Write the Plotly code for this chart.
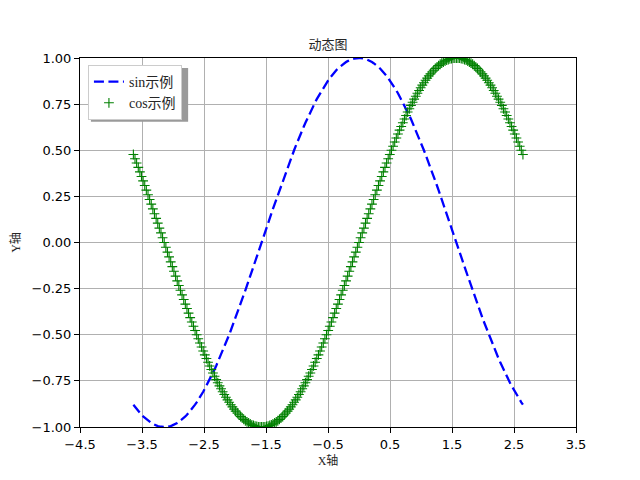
import plotly.graph_objects as go

# x 取值（弧度）
x_vals = [
    -3.639, -3.613, -3.587, -3.560, -3.534, -3.508, -3.482, -3.456, -3.430,
    -3.403, -3.377, -3.351, -3.325, -3.299, -3.272, -3.246, -3.220, -3.194, -3.168,
    -3.142, -3.115, -3.089, -3.063, -3.037, -3.011, -2.985, -2.958, -2.932, -2.906,
    -2.880, -2.854, -2.827, -2.801, -2.775, -2.749, -2.723, -2.697, -2.670, -2.644,
    -2.618, -2.592, -2.566, -2.539, -2.513, -2.487, -2.461, -2.435, -2.409, -2.382,
    -2.356, -2.330, -2.304, -2.278, -2.251, -2.225, -2.199, -2.173, -2.147, -2.121,
    -2.094, -2.068, -2.042, -2.016, -1.990, -1.963, -1.937, -1.911, -1.885, -1.859,
    -1.833, -1.806, -1.780, -1.754, -1.728, -1.702, -1.676, -1.649, -1.623, -1.597,
    -1.571, -1.545, -1.518, -1.492, -1.466, -1.440, -1.414, -1.388, -1.361, -1.335,
    -1.309, -1.283, -1.257, -1.230, -1.204, -1.178, -1.152, -1.126, -1.100, -1.073,
    -1.047, -1.021, -0.995, -0.969, -0.942, -0.916, -0.890, -0.864, -0.838, -0.812,
    -0.785, -0.759, -0.733, -0.707, -0.681, -0.654, -0.628, -0.602, -0.576, -0.550,
    -0.524, -0.497, -0.471, -0.445, -0.419, -0.393, -0.367, -0.340, -0.314, -0.288,
    -0.262, -0.236, -0.209, -0.183, -0.157, -0.131, -0.105, -0.079, -0.052, -0.026,
    0.000, 0.026, 0.052, 0.079, 0.105, 0.131, 0.157, 0.183, 0.209, 0.236,
    0.262, 0.288, 0.314, 0.340, 0.367, 0.393, 0.419, 0.445, 0.471, 0.497,
    0.524, 0.550, 0.576, 0.602, 0.628, 0.654, 0.681, 0.707, 0.733, 0.759,
    0.785, 0.812, 0.838, 0.864, 0.890, 0.916, 0.942, 0.969, 0.995, 1.021,
    1.047, 1.073, 1.100, 1.126, 1.152, 1.178, 1.204, 1.230, 1.257, 1.283,
    1.309, 1.335, 1.361, 1.388, 1.414, 1.440, 1.466, 1.492, 1.518, 1.545,
    1.571, 1.597, 1.623, 1.649, 1.676, 1.702, 1.728, 1.754, 1.780, 1.806,
    1.833, 1.859, 1.885, 1.911, 1.937, 1.963, 1.990, 2.016, 2.042, 2.068,
    2.094, 2.121, 2.147, 2.173, 2.199, 2.225, 2.251, 2.278, 2.304, 2.330,
    2.356, 2.382, 2.409, 2.435, 2.461, 2.487, 2.513, 2.539, 2.566, 2.592,
    2.618, 2.644,
]

# 蓝色虚线 "sin示例"
sin_vals = [
    -0.879, -0.891, -0.903, -0.914, -0.924, -0.934, -0.943, -0.951, -0.959,
    -0.966, -0.972, -0.978, -0.983, -0.988, -0.991, -0.995, -0.997, -0.999, -1.000,
    -1.000, -1.000, -0.999, -0.997, -0.995, -0.991, -0.988, -0.983, -0.978, -0.972,
    -0.966, -0.959, -0.951, -0.943, -0.934, -0.924, -0.914, -0.903, -0.891, -0.879,
    -0.866, -0.853, -0.839, -0.824, -0.809, -0.793, -0.777, -0.760, -0.743, -0.725,
    -0.707, -0.688, -0.669, -0.649, -0.629, -0.609, -0.588, -0.566, -0.545, -0.522,
    -0.500, -0.477, -0.454, -0.431, -0.407, -0.383, -0.358, -0.334, -0.309, -0.284,
    -0.259, -0.233, -0.208, -0.182, -0.156, -0.131, -0.105, -0.078, -0.052, -0.026,
    0.000, 0.026, 0.052, 0.078, 0.105, 0.131, 0.156, 0.182, 0.208, 0.233,
    0.259, 0.284, 0.309, 0.334, 0.358, 0.383, 0.407, 0.431, 0.454, 0.477,
    0.500, 0.522, 0.545, 0.566, 0.588, 0.609, 0.629, 0.649, 0.669, 0.688,
    0.707, 0.725, 0.743, 0.760, 0.777, 0.793, 0.809, 0.824, 0.839, 0.853,
    0.866, 0.879, 0.891, 0.903, 0.914, 0.924, 0.934, 0.943, 0.951, 0.959,
    0.966, 0.972, 0.978, 0.983, 0.988, 0.991, 0.995, 0.997, 0.999, 1.000,
    1.000, 1.000, 0.999, 0.997, 0.995, 0.991, 0.988, 0.983, 0.978, 0.972,
    0.966, 0.959, 0.951, 0.943, 0.934, 0.924, 0.914, 0.903, 0.891, 0.879,
    0.866, 0.853, 0.839, 0.824, 0.809, 0.793, 0.777, 0.760, 0.743, 0.725,
    0.707, 0.688, 0.669, 0.649, 0.629, 0.609, 0.588, 0.566, 0.545, 0.522,
    0.500, 0.477, 0.454, 0.431, 0.407, 0.383, 0.358, 0.334, 0.309, 0.284,
    0.259, 0.233, 0.208, 0.182, 0.156, 0.131, 0.105, 0.078, 0.052, 0.026,
    0.000, -0.026, -0.052, -0.078, -0.105, -0.131, -0.156, -0.182, -0.208, -0.233,
    -0.259, -0.284, -0.309, -0.334, -0.358, -0.383, -0.407, -0.431, -0.454, -0.477,
    -0.500, -0.522, -0.545, -0.566, -0.588, -0.609, -0.629, -0.649, -0.669, -0.688,
    -0.707, -0.725, -0.743, -0.760, -0.777, -0.793, -0.809, -0.824, -0.839, -0.853,
    -0.866, -0.879,
]

# 绿色 + 号 "cos示例"
cos_vals = [
    0.477, 0.454, 0.431, 0.407, 0.383, 0.358, 0.334, 0.309, 0.284,
    0.259, 0.233, 0.208, 0.182, 0.156, 0.131, 0.105, 0.078, 0.052, 0.026,
    0.000, -0.026, -0.052, -0.078, -0.105, -0.131, -0.156, -0.182, -0.208, -0.233,
    -0.259, -0.284, -0.309, -0.334, -0.358, -0.383, -0.407, -0.431, -0.454, -0.477,
    -0.500, -0.522, -0.545, -0.566, -0.588, -0.609, -0.629, -0.649, -0.669, -0.688,
    -0.707, -0.725, -0.743, -0.760, -0.777, -0.793, -0.809, -0.824, -0.839, -0.853,
    -0.866, -0.879, -0.891, -0.903, -0.914, -0.924, -0.934, -0.943, -0.951, -0.959,
    -0.966, -0.972, -0.978, -0.983, -0.988, -0.991, -0.995, -0.997, -0.999, -1.000,
    -1.000, -1.000, -0.999, -0.997, -0.995, -0.991, -0.988, -0.983, -0.978, -0.972,
    -0.966, -0.959, -0.951, -0.943, -0.934, -0.924, -0.914, -0.903, -0.891, -0.879,
    -0.866, -0.853, -0.839, -0.824, -0.809, -0.793, -0.777, -0.760, -0.743, -0.725,
    -0.707, -0.688, -0.669, -0.649, -0.629, -0.609, -0.588, -0.566, -0.545, -0.522,
    -0.500, -0.477, -0.454, -0.431, -0.407, -0.383, -0.358, -0.334, -0.309, -0.284,
    -0.259, -0.233, -0.208, -0.182, -0.156, -0.131, -0.105, -0.078, -0.052, -0.026,
    0.000, 0.026, 0.052, 0.078, 0.105, 0.131, 0.156, 0.182, 0.208, 0.233,
    0.259, 0.284, 0.309, 0.334, 0.358, 0.383, 0.407, 0.431, 0.454, 0.477,
    0.500, 0.522, 0.545, 0.566, 0.588, 0.609, 0.629, 0.649, 0.669, 0.688,
    0.707, 0.725, 0.743, 0.760, 0.777, 0.793, 0.809, 0.824, 0.839, 0.853,
    0.866, 0.879, 0.891, 0.903, 0.914, 0.924, 0.934, 0.943, 0.951, 0.959,
    0.966, 0.972, 0.978, 0.983, 0.988, 0.991, 0.995, 0.997, 0.999, 1.000,
    1.000, 1.000, 0.999, 0.997, 0.995, 0.991, 0.988, 0.983, 0.978, 0.972,
    0.966, 0.959, 0.951, 0.943, 0.934, 0.924, 0.914, 0.903, 0.891, 0.879,
    0.866, 0.853, 0.839, 0.824, 0.809, 0.793, 0.777, 0.760, 0.743, 0.725,
    0.707, 0.688, 0.669, 0.649, 0.629, 0.609, 0.588, 0.566, 0.545, 0.522,
    0.500, 0.477,
]

cjk_font = "Liberation Serif, Noto Sans CJK SC, serif"
tick_font = "DejaVu Sans, sans-serif"

fig = go.Figure()

fig.add_trace(go.Scatter(
    x=x_vals, y=sin_vals,
    mode="lines",
    name="sin示例",
    line=dict(color="#0000ff", width=2.3, dash="10px,4.5px"),
))

fig.add_trace(go.Scatter(
    x=x_vals, y=cos_vals,
    mode="markers",
    name="cos示例",
    marker=dict(symbol="cross-thin", size=7, color="#008000",
                line=dict(color="#008000", width=1.1)),
))

# 图例阴影
fig.add_shape(
    type="rect", xref="paper", yref="paper",
    x0=0.022, x1=0.218, y0=0.827, y1=0.973,
    fillcolor="#9a9a9a", line=dict(width=0), layer="above",
)

# 页面 body 自带 8px 边距，这里的边距已扣除
fig.update_layout(
    width=640, height=480,
    paper_bgcolor="white",
    plot_bgcolor="white",
    margin=dict(l=72, r=72, t=50, b=61),
    showlegend=True,
    title=dict(
        text="动态图",
        font=dict(family=cjk_font, size=13, color="#262626"),
        x=(72 + 248) / 640, xanchor="center",
        y=1 - 36 / 480, yanchor="middle",
    ),
    legend=dict(
        x=0.016, y=0.981, xanchor="left", yanchor="top",
        bgcolor="white",
        bordercolor="#cccccc", borderwidth=1,
        font=dict(family=cjk_font, size=14, color="#262626"),
    ),
    xaxis=dict(
        range=[-4.5, 3.5],
        tick0=-4.5, dtick=1, tickformat=".1f",
        showgrid=True, gridcolor="#b0b0b0", gridwidth=1,
        zeroline=False, automargin=False,
        showline=True, linecolor="black", linewidth=1, mirror=True,
        ticks="outside", ticklen=5, tickwidth=1, tickcolor="black",
        tickfont=dict(family=tick_font, size=13, color="black"),
        title=dict(text="X轴", standoff=6,
                   font=dict(family=cjk_font, size=12, color="#262626")),
    ),
    yaxis=dict(
        range=[-1, 1],
        tick0=-1, dtick=0.25, tickformat=".2f",
        showgrid=True, gridcolor="#b0b0b0", gridwidth=1,
        zeroline=False, automargin=False,
        showline=True, linecolor="black", linewidth=1, mirror=True,
        ticks="outside", ticklen=5, tickwidth=1, tickcolor="black",
        tickfont=dict(family=tick_font, size=13, color="black"),
        title=dict(text="Y轴", standoff=13,
                   font=dict(family=cjk_font, size=12, color="#262626")),
    ),
)

fig.write_html("out.html")
